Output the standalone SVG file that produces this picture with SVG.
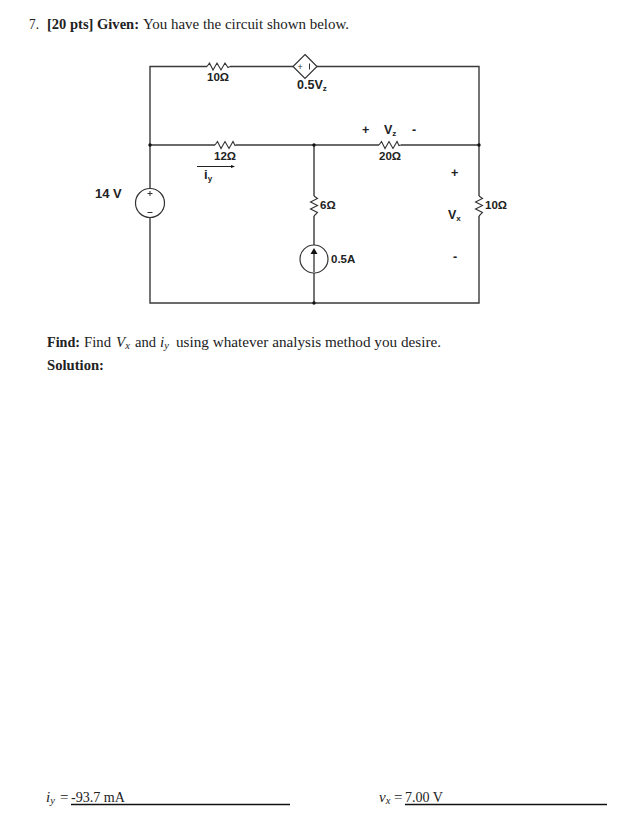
<svg xmlns="http://www.w3.org/2000/svg" width="624" height="835" viewBox="0 0 624 835">
<style>
.w{fill:none;stroke:#3a3a3a;stroke-width:1.4}
.r{fill:none;stroke:#333;stroke-width:1.1}
.d{fill:#111}
.c{font-family:"Liberation Sans",Arial,sans-serif;font-weight:700;font-size:11.500px;fill:#222}
.h{font-size:12.500px}
.s{font-size:8px}
.p{font-family:"Liberation Serif","Times New Roman",serif;font-size:15px;fill:#222}
.b{font-weight:700}
.i{font-style:italic}
.u{font-size:10.500px}
.l{stroke:#111;stroke-width:1.400}
</style>
<rect width="624" height="835" fill="#fff"/>
<g id="connectors">
<path class="w" d="M150 188.500V66.500H207M230 66.500H293M317 66.500H479V196M479 216V303H150V217.500"/>
<path class="w" d="M150 145H215M236 145H379M401 145H479"/>
<path class="w" d="M314 145V196M314 216V303"/>
</g>
<g id="r1"><path class="r" d="M207 66.500L209.500 63 213 70 217 63 221 70 225 63 228 67.500 230 66.500"/><text class="c" x="207" y="81">10Ω</text></g>
<g id="r2"><path class="r" d="M215 145L217.500 141.500 221 148.500 225 141.500 229 148.500 233 141.500 235 145.500 236 145"/><text class="c" x="214" y="160">12Ω</text></g>
<g id="r3"><path class="r" d="M379 145L381.500 141.500 385 148.500 389 141.500 393 148.500 397 141.500 399 145.500 401 145"/><text class="c" x="379" y="160">20Ω</text></g>
<g id="r4"><path class="r" d="M314 196L317.500 198.500 310.500 202 317.500 205.500 310.500 209 317.500 212.500 314 216"/><text class="c" x="320" y="209">6Ω</text></g>
<g id="r5"><path class="r" d="M479 196L482.500 198.500 475.500 202 482.500 205.500 475.500 209 482.500 212.500 479 216"/><text class="c" x="485" y="209">10Ω</text></g>
<g id="dep-source"><path fill="#fff" stroke="#333" stroke-width="1.2" d="M305 54.500L317 66.500 305 78.500 293 66.500Z"/><text x="297.500" y="70" style="font-family:'Liberation Sans',sans-serif;font-size:9px;fill:#333">+</text><path stroke="#333" d="M309.500 63.500V69.500"/><text class="c h" x="297" y="89">0.5V<tspan class="s" dy="2">z</tspan></text></g>
<g id="v-source"><circle cx="150" cy="203" r="14.500" fill="#fff" stroke="#333" stroke-width="1.2"/><path stroke="#333" d="M147.500 193.500H152.500M150 191V196M147.500 212.500H152.500"/><text class="c" x="95" y="198" style="font-size:13px">14 V</text></g>
<g id="i-source"><circle cx="314" cy="259" r="14" fill="#fff" stroke="#333" stroke-width="1.2"/><path stroke="#222" stroke-width="1.2" d="M314 272V253"/><path fill="#111" d="M314 248L317.500 254H310.500Z"/><text class="c" x="331" y="263">0.5A</text></g>
<g id="nodes"><circle class="d" cx="150" cy="145" r="1.700"/><circle class="d" cx="314" cy="145" r="1.700"/><circle class="d" cx="479" cy="145" r="1.700"/><circle class="d" cx="314" cy="303" r="1.700"/></g>
<g id="labels">
<path stroke="#222" d="M197 166.500H231"/><path fill="#111" d="M235 166.500L231 165V168Z"/>
<text class="c" x="204" y="179" style="font-size:13px">i<tspan class="s" dy="2">y</tspan></text>
<text class="c h" x="362" y="134">+</text>
<text class="c h" x="384" y="134">V<tspan class="s" dy="2">z</tspan></text>
<text class="c h" x="412" y="134">-</text>
<text class="c h" x="451" y="177">+</text>
<text class="c h" x="448" y="219">V<tspan class="s" dy="2">x</tspan></text>
<text class="c h" x="453" y="261">-</text>
</g>
<g id="text">
<text class="p" x="29" y="29" textLength="10" lengthAdjust="spacingAndGlyphs">7.</text>
<text class="p b" x="47" y="29" textLength="92" lengthAdjust="spacingAndGlyphs">[20 pts] Given:</text>
<text class="p" x="143" y="29" textLength="206" lengthAdjust="spacingAndGlyphs">You have the circuit shown below.</text>
<text class="p b" x="47" y="347" textLength="33" lengthAdjust="spacingAndGlyphs">Find:</text>
<text class="p" x="84" y="347" textLength="27" lengthAdjust="spacingAndGlyphs">Find</text>
<text class="p i" x="116" y="347">V<tspan class="u" dy="2">x</tspan></text>
<text class="p" x="135" y="347" textLength="21" lengthAdjust="spacingAndGlyphs">and</text>
<text class="p i" x="160" y="347">i<tspan class="u" dy="2">y</tspan></text>
<text class="p" x="176" y="347" textLength="265" lengthAdjust="spacingAndGlyphs">using whatever analysis method you desire.</text>
<text class="p b" x="47" y="370" textLength="57" lengthAdjust="spacingAndGlyphs">Solution:</text>
<text class="p i" x="46" y="802">i<tspan class="u" dy="2">y</tspan></text>
<text class="p" x="60" y="802">=</text>
<text class="p" x="71" y="802" textLength="54" lengthAdjust="spacingAndGlyphs">-93.7 mA</text>
<path class="l" d="M71 804.500H290"/>
<text class="p i" x="379" y="802">v<tspan class="u" dy="2">x</tspan></text>
<text class="p" x="394" y="802">=</text>
<text class="p" x="405" y="802" textLength="38" lengthAdjust="spacingAndGlyphs">7.00 V</text>
<path class="l" d="M405 804.500H607"/>
</g>
</svg>
